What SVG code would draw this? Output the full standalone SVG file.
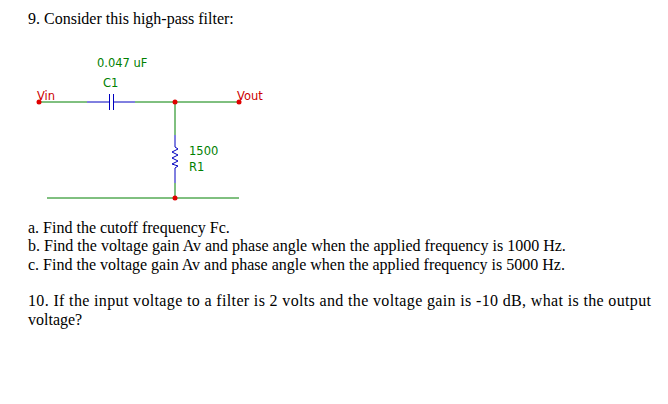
<svg xmlns="http://www.w3.org/2000/svg" width="668" height="404" viewBox="0 0 668 404">
<style>
.t{font-family:"Liberation Serif",serif;font-size:16px;fill:#000}
.s{font-family:"DejaVu Sans",sans-serif;font-size:11.5px;fill:#008000}
.r{font-family:"DejaVu Sans",sans-serif;font-size:11.5px;fill:#cc0000}
.g{stroke:#008000;stroke-width:1;fill:none}
.b{stroke:#0000c0;stroke-width:1;fill:none}
.d{fill:#e00000}
</style>
<rect width="668" height="404" fill="#fff"/>
<text class="t" x="28" y="24">9. Consider this high-pass filter:</text>
<g id="connectors">
<path class="g" d="M39 102H87M135 102H239M175 102V135M175 183V198M47 198H239"/>
<path class="b" d="M87 102H109M114 102H135M175 135V147M175 168V183"/>
</g>
<g id="C1"><path class="b" d="M109.5 94V110M113.5 94V110"/>
<text class="s" x="97" y="67">0.047 uF</text><text class="s" x="103" y="87">C1</text></g>
<g id="R1"><path class="b" d="M175 147L178 149L172 152L178 155L172 158L178 161L172 164L178 166L175 168"/>
<text class="s" x="189" y="155">1500</text><text class="s" x="189" y="171">R1</text></g>
<g id="Vin"><circle class="d" cx="39" cy="102" r="2.5"/><text class="r" x="37" y="100">Vin</text></g>
<g id="Vout"><circle class="d" cx="239" cy="102" r="2.5"/><text class="r" x="237" y="100">Vout</text></g>
<g id="J1"><circle class="d" cx="175" cy="102" r="2.5"/></g>
<g id="J2"><circle class="d" cx="175" cy="198" r="2.5"/></g>
<text class="t" x="28" y="233">a. Find the cutoff frequency Fc.</text>
<text class="t" x="28" y="251">b. Find the voltage gain Av and phase angle when the applied frequency is 1000 Hz.</text>
<text class="t" x="28" y="270">c. Find the voltage gain Av and phase angle when the applied frequency is 5000 Hz.</text>
<text class="t" x="28" y="306" textLength="623" lengthAdjust="spacing">10. If the input voltage to a filter is 2 volts and the voltage gain is -10 dB, what is the output</text>
<text class="t" x="28" y="325">voltage?</text>
</svg>
